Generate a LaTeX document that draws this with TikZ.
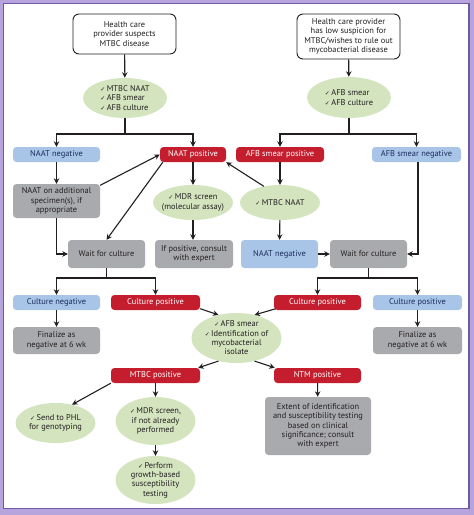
\documentclass[tikz,border=0pt]{standalone}
\usepackage{fontspec}
\setmainfont{PT Sans}
\newfontfamily\dejavu{DejaVu Sans}
\usetikzlibrary{shapes.geometric,arrows.meta}
\definecolor{redbox}{HTML}{C41E2E}
\definecolor{bluebox}{HTML}{A8C5E8}
\definecolor{graybox}{HTML}{A9AAAD}
\definecolor{greenell}{HTML}{D3E4BE}
\definecolor{navy}{HTML}{1B2D5C}
\definecolor{ink}{HTML}{231F20}
\definecolor{bordlight}{HTML}{B7A4DD}
\definecolor{borddark}{HTML}{6F58A6}
\newcommand{\ck}{{\dejavu\fontsize{6}{6}\selectfont ✓}\,}
\begin{document}
\begin{tikzpicture}[x=1pt,y=-1pt,
  tx/.style={font=\fontsize{8.4}{9.3}\selectfont, align=center, text=ink, inner sep=0pt},
  rbase/.style={tx, rectangle, rounded corners=3.5pt},
  redb/.style={rbase, fill=redbox, text=white, minimum height=15pt},
  blueb/.style={rbase, fill=bluebox, text=navy},
  grayb/.style={rbase, fill=graybox},
  whiteb/.style={rbase, draw=ink, line width=0.9pt, fill=white, rounded corners=6pt},
  gell/.style={ellipse, fill=greenell, inner sep=0pt},
  arr/.style={-{Stealth[length=5.5pt,width=5.5pt]}, line width=1.1pt, draw=ink},
  ln/.style={line width=1.1pt, draw=ink}
]
% frame
\fill[bordlight] (0,0) rectangle (474,515);
\filldraw[fill=white, draw=borddark, line width=1.2pt] (3.2,3.2) rectangle (469,508.5);
\useasboundingbox (0,0) rectangle (474,515);

% top boxes
\node[whiteb, minimum width=103pt, minimum height=40pt] (h1) at (124.5,34) {Health care\\provider suspects\\MTBC disease};
\node[whiteb, minimum width=103pt, minimum height=45pt] (h2) at (348.5,36.5) {Health care provider\\has low suspicion for\\MTBC/wishes to rule out\\mycobacterial disease};

\node[gell, minimum width=84pt, minimum height=40pt] (e1) at (125,98) {};
\node[tx, align=left] (e1t) at (125,98) {\ck MTBC NAAT\\\ck AFB smear\\\ck AFB culture};
\node[gell, minimum width=84pt, minimum height=41pt] (e2) at (349,97.5) {};
\node[tx, align=left] (e2t) at (349,97.5) {\ck AFB smear\\\ck AFB culture};

% row 1
\node[blueb, minimum width=87pt, minimum height=15pt] (nneg) at (56.5,154.5) {NAAT negative};
\node[redb, minimum width=66pt] (npos) at (193,154.5) {NAAT positive};
\node[redb, minimum width=88pt] (afbpos) at (280,154.5) {AFB smear positive};
\node[blueb, minimum width=89pt, minimum height=15pt] (afbneg) at (416.5,154.5) {AFB smear negative};

% row 2
\node[grayb, minimum width=87pt, minimum height=34pt] (nadd) at (56.5,201) {NAAT on additional\\specimen(s), if\\appropriate};
\node[gell, minimum width=80pt, minimum height=35pt] (mdr) at (193,202.5) {};
\node[tx] (mdrt) at (193,202.5) {\ck MDR screen\\(molecular assay)};
\node[gell, minimum width=80pt, minimum height=35pt] (mnaat) at (280,202.5) {};
\node[tx] (mnaatt) at (280,202.5) {\ck MTBC NAAT};

% row 3
\node[grayb, minimum width=77pt, minimum height=28pt] (wait1) at (106.5,254) {Wait for culture};
\node[grayb, minimum width=78pt, minimum height=28pt] (ifpos) at (194,254) {If positive, consult\\with expert};
\node[blueb, minimum width=77pt, minimum height=28pt] (nneg2) at (279.5,254) {NAAT negative};
\node[grayb, minimum width=77pt, minimum height=28pt] (wait2) at (368.5,254) {Wait for culture};

% row 4
\node[blueb, minimum width=87pt, minimum height=15pt] (cneg) at (56.5,302.5) {Culture negative};
\node[redb, minimum width=89pt] (cpos1) at (155.5,302.5) {Culture positive};
\node[redb, minimum width=87pt] (cpos2) at (317.5,302.5) {Culture positive};
\node[blueb, minimum width=89pt, minimum height=15pt] (cpos3) at (417.5,302.5) {Culture positive};

\node[grayb, minimum width=87pt, minimum height=27pt] (fin1) at (56.5,340.5) {Finalize as\\negative at 6 wk};
\node[grayb, minimum width=89pt, minimum height=27pt] (fin2) at (417.5,340.5) {Finalize as\\negative at 6 wk};

\node[gell, minimum width=90pt, minimum height=50pt] (eid) at (236.5,338) {};
\node[tx] (eidt) at (236.5,338) {\ck AFB smear\\\ck Identification of\\mycobacterial\\isolate};

% row 5
\node[redb, minimum width=89pt] (mtbcpos) at (155.5,375.5) {MTBC positive};
\node[redb, minimum width=87pt] (ntmpos) at (317.5,375.5) {NTM positive};

\node[gell, minimum width=80pt, minimum height=40pt] (phl) at (55.5,423) {};
\node[tx] (phlt) at (55.5,423) {\ck Send to PHL\\for genotyping};
\node[gell, minimum width=80pt, minimum height=48pt] (mdr2) at (155.5,421) {};
\node[tx] (mdr2t) at (155.5,421) {\ck MDR screen,\\if not already\\performed};
\node[gell, minimum width=80pt, minimum height=48pt] (perf) at (155.5,480) {};
\node[tx] (perft) at (155.5,480) {\ck Perform\\growth-based\\susceptibility\\testing};
\node[grayb, minimum width=106pt, minimum height=58pt] (ext) at (318,426) {Extent of identification\\and susceptibility testing\\based on clinical\\significance; consult\\with expert};

% junctions
\coordinate (j1) at (125,134);
\coordinate (j2) at (349,134);
\coordinate (j3) at (106.5,278);
\coordinate (j4) at (368.5,278);

% connectors
\draw[arr] (h1) -- (e1);
\draw[arr] (h2) -- (e2);
\draw[ln] (e1) -- (j1);
\draw[arr] (j1) -| (nneg);
\draw[arr] (j1) -| (npos);
\draw[ln] (e2) -- (j2);
\draw[arr] (j2) -| (afbpos);
\draw[arr] (j2) -| (afbneg);

\draw[arr] (nneg) -- (nadd);
\draw[arr] (nadd.south) |- (wait1.west);
\draw[arr] ([yshift=-1.5pt]nadd.north east) -- (npos.west);
\draw[arr] ([xshift=3pt]npos.south west) -- (wait1.north);
\draw[arr] (npos) -- (mdr);
\draw[arr] (mdr.south) -- (mdr.south |- ifpos.north);
\draw[arr] (afbpos) -- (mnaat);
\draw[arr] (mnaat.135) -- (npos.south east);
\draw[arr] (mnaat) -- (nneg2);
\draw[arr] (nneg2) -- (wait2);
\draw[arr] ([xshift=1.5pt]afbneg.south) |- (wait2.east);

\draw[ln] (wait1) -- (j3);
\draw[arr] (j3) -| (cneg);
\draw[arr] (j3) -| (cpos1);
\draw[ln] (wait2) -- (j4);
\draw[arr] (j4) -| (cpos2);
\draw[arr] (j4) -| (cpos3);

\draw[arr] (cneg) -- (fin1);
\draw[arr] (cpos3) -- (fin2);
\draw[arr] ([yshift=1.5pt]cpos1.south east) -- (eid.128);
\draw[arr] ([yshift=1.5pt,xshift=2pt]cpos2.south west) -- (eid.52);
\draw[arr] (eid.232) -- ([xshift=-2pt]mtbcpos.north east);
\draw[arr] (eid.308) -- ([xshift=1pt]ntmpos.north west);

\draw[arr] (mtbcpos.south west) -- (phl.48);
\draw[arr] (mtbcpos) -- (mdr2);
\draw[arr] (mdr2) -- (perf);
\draw[arr] (ntmpos) -- (ext);
\end{tikzpicture}
\end{document}
